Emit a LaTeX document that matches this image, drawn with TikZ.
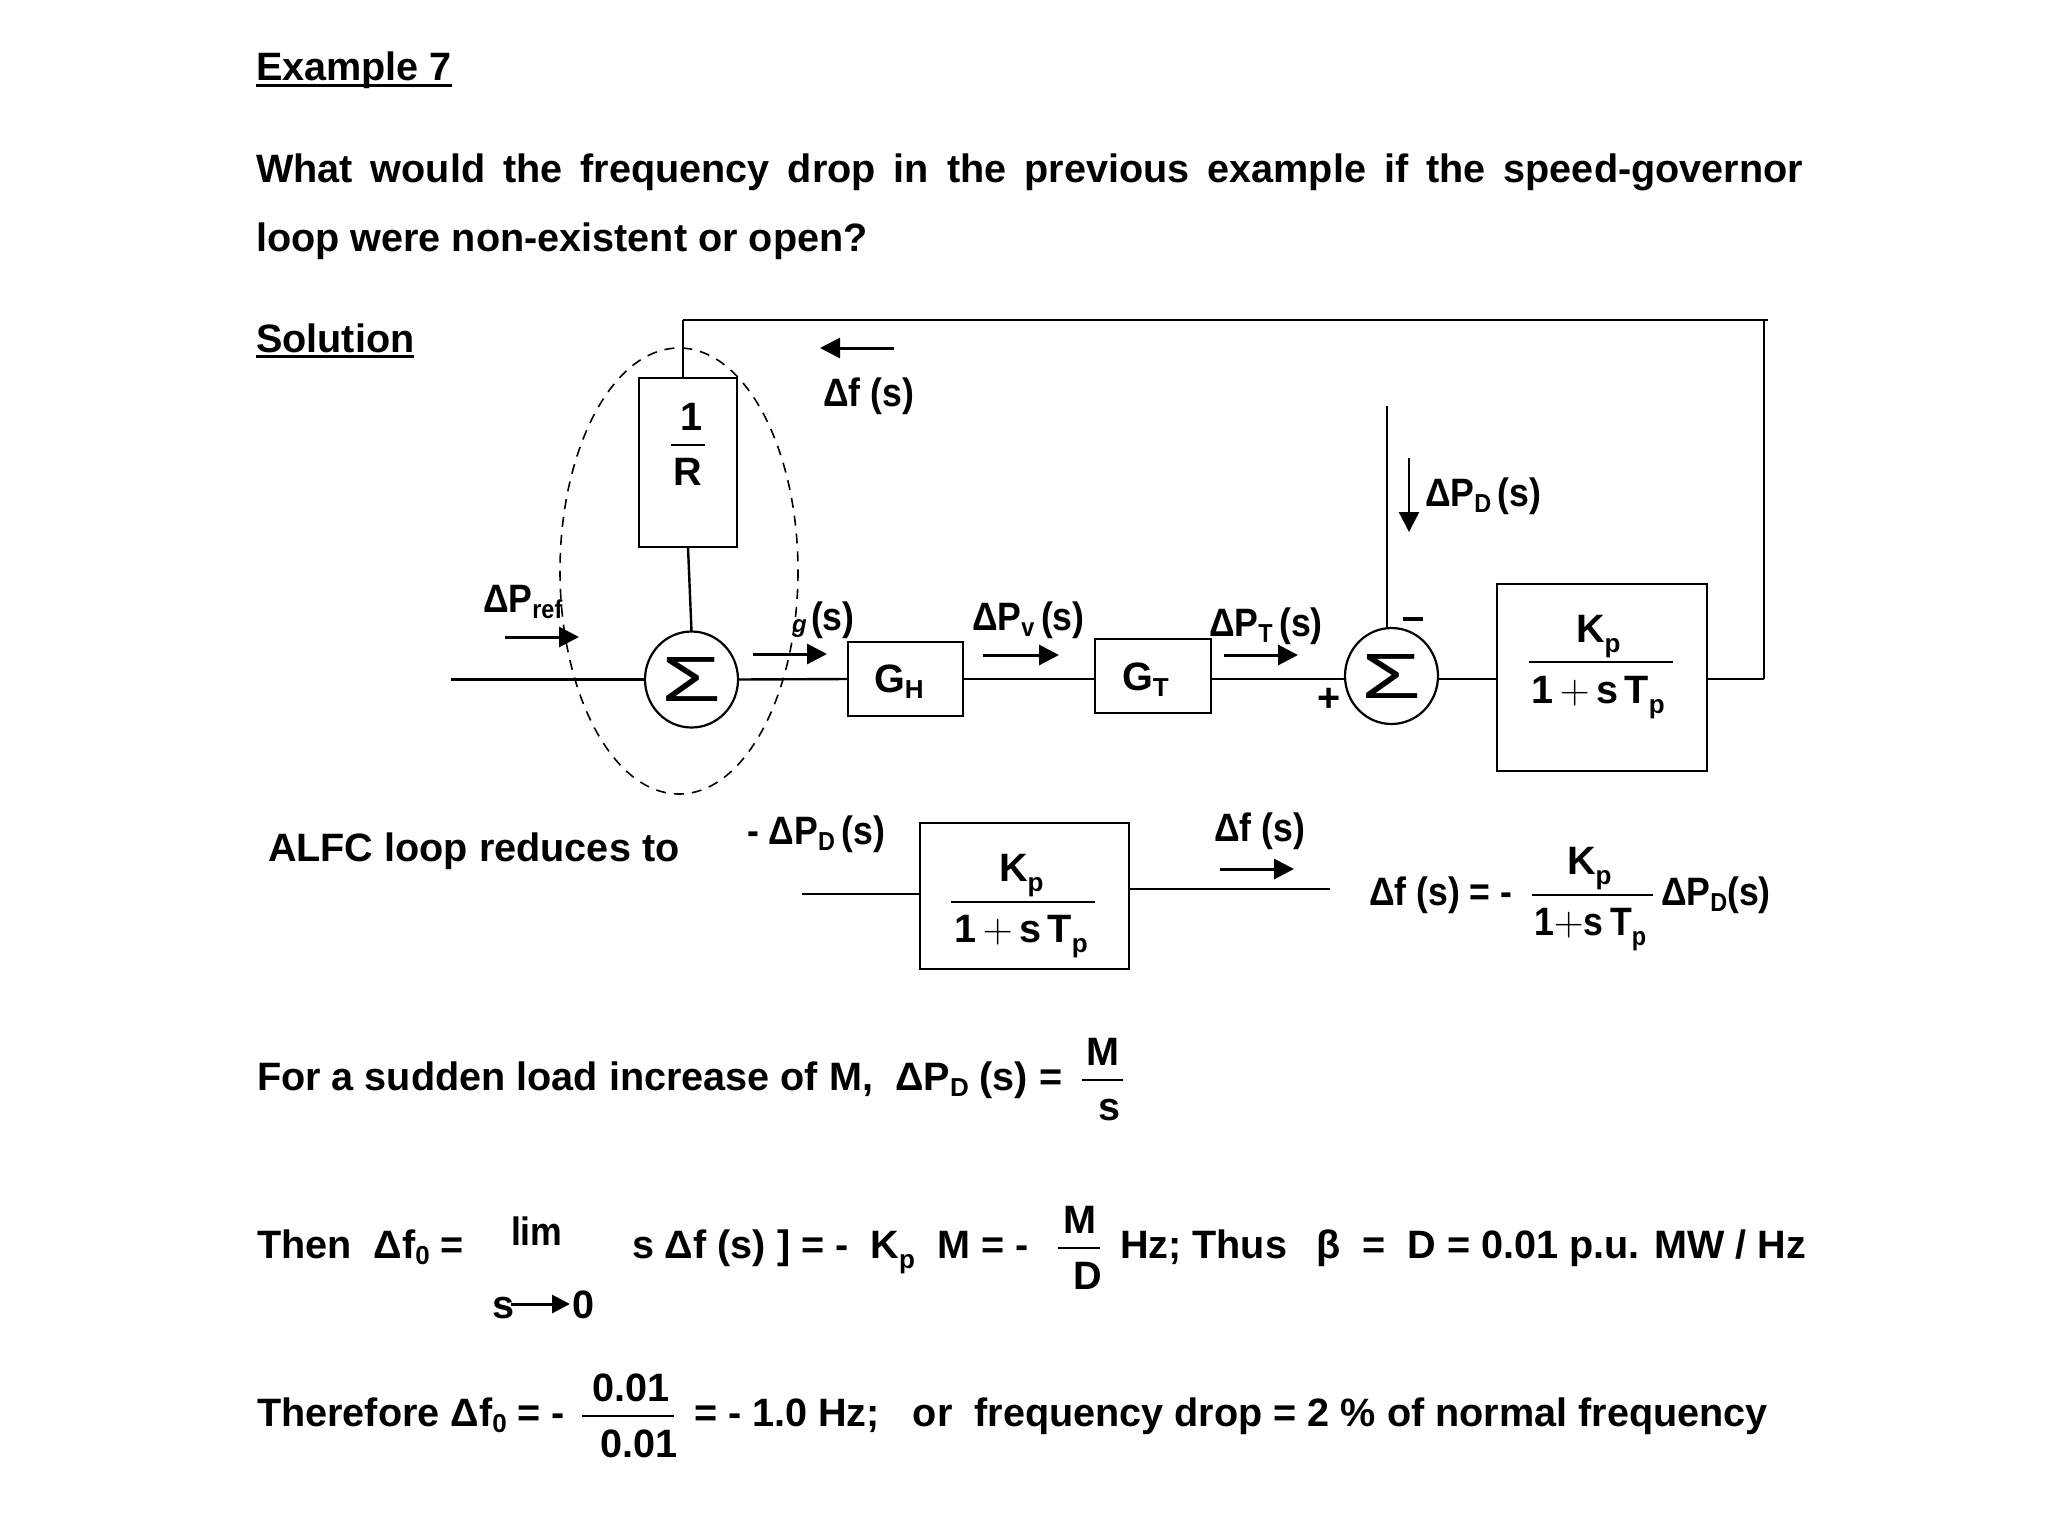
\documentclass[tikz,border=0pt]{standalone}
\usepackage{amsmath,amssymb}
\usepackage{graphicx}
\usepackage{fontspec}
\usepackage{tikz}
\usepackage{xcolor}
\usetikzlibrary{arrows.meta,shapes.geometric}
\setmainfont{Liberation Sans}
\newfontfamily\diagfont[FakeStretch=0.9]{Liberation Sans}
\newcommand{\lsub}[1]{\raisebox{-0.3ex}{\fontsize{13}{13}\selectfont #1}}
\newcommand{\psub}[1]{\raisebox{-0.5ex}{\fontsize{13}{13}\selectfont #1}}
\newcommand{\undertext}[1]{\setbox0\hbox{#1}\rlap{\rule[-3pt]{\wd0}{1.3pt}}\box0}
\newcommand{\bigsigma}{\resizebox{30pt}{22pt}{Σ}}
\tikzset{
  lbl/.style={font=\bfseries\fontsize{19.8}{24}\selectfont,inner sep=0pt,outer sep=0pt,anchor=base west},
  dlbl/.style={font=\diagfont\bfseries\fontsize{19.8}{24}\selectfont,inner sep=0pt,outer sep=0pt,anchor=base west},
  blockbox/.style={draw,line width=1.1pt,inner sep=0pt,outer sep=0pt},
  sumnode/.style={draw,ellipse,line width=1.1pt,inner sep=0pt,outer sep=0pt,minimum width=46.5pt,minimum height=48pt},
  wire/.style={line width=1.2pt},
  sigarrow/.style={line width=1.5pt,-{Triangle[length=10pt,width=10pt]}},
  fracline/.style={line width=0.8pt}
}
\begin{document}
\begin{tikzpicture}[x=0.5pt,y=-0.5pt]
\useasboundingbox (0,0) rectangle (2048,1536);
\node[lbl] (title) at (256,81) {\undertext{Example 7}};
\node[lbl] (questa) at (256,182) {\makebox[773.5pt][s]{What would the frequency drop in the previous example if the speed-governor}};
\node[lbl] (questb) at (256,251) {loop were non-existent or open?};
\node[lbl] (soln) at (256,352) {\undertext{Solution}};
% upper loop
\coordinate (topL) at (683,320);
\coordinate (topR) at (1768,320);
\coordinate (rgt) at (1764,320);
\coordinate (mid) at (0,679);
\coordinate (inA) at (451,679.5);
\coordinate (pdtop) at (1387,406);
\node[blockbox,minimum width=49pt,minimum height=84.5pt] (rbox) at (688,462.5) {};
\node[sumnode] (sumA) at (691.5,679.5) {\bigsigma};
\node[blockbox,minimum width=57.5pt,minimum height=37pt] (gh) at (905.5,679) {};
\node[blockbox,minimum width=58pt,minimum height=37pt] (gt) at (1153,676) {};
\node[sumnode] (sumB) at (1391.5,676) {\bigsigma};
\node[blockbox,minimum width=105pt,minimum height=93.5pt] (kbox) at (1602,677.5) {};
\draw[wire] (topL) -- (topR);
\draw[wire] (rgt) -- (rgt |- mid);
\draw[wire] (topL) -- (topL |- rbox.north);
\draw[wire] (rbox.south) -- (sumA.north);
\draw[wire] (inA) -- (sumA.west);
\draw[wire] (sumA.east) -- (gh.west);
\draw[wire] (gh.east) -- (gt.west |- mid);
\draw[wire] (gt.east |- mid) -- (sumB.west |- mid);
\draw[wire] (sumB.east |- mid) -- (kbox.west |- mid);
\draw[wire] (kbox.east |- mid) -- (rgt |- mid);
\draw[line width=1pt] (pdtop) -- (sumB.north -| pdtop);
\draw[line width=0.8pt,dashed,dash pattern=on 5pt off 4pt] (679,571) ellipse [x radius=119,y radius=223];
% arrows beside the signals
\coordinate (afa) at (894,348);\coordinate (afb) at (820,348);
\coordinate (apa) at (505,637);\coordinate (apb) at (579,637);
\coordinate (aga) at (753,654);\coordinate (agb) at (827,654);
\coordinate (ava) at (983,655);\coordinate (avb) at (1059,655);
\coordinate (ata) at (1224,655);\coordinate (atb) at (1298,655);
\coordinate (ada) at (1409,458);\coordinate (adb) at (1409,532);
\draw[sigarrow] (afa) -- (afb);
\draw[sigarrow] (apa) -- (apb);
\draw[sigarrow] (aga) -- (agb);
\draw[sigarrow] (ava) -- (avb);
\draw[sigarrow] (ata) -- (atb);
\draw[sigarrow,line width=1.2pt] (ada) -- (adb);
% signal names
\node[dlbl] (fsa) at (823,406) {Δf (s)};
\node[dlbl] (pref) at (483,612) {ΔP\lsub{ref}};
\node[lbl,font=\bfseries\itshape\fontsize{12}{12}\selectfont] (pgsub) at (792,632) {g};
\node[dlbl] (pgs) at (811,630) {(s)};
\node[dlbl] (pvs) at (972,630) {ΔP\lsub{v}\,(s)};
\node[dlbl] (pts) at (1209,636) {ΔP\lsub{T}\,(s)};
\node[dlbl] (pds) at (1425,506) {ΔP\lsub{D}\,(s)};
\node[lbl] (minus) at (1403,621) {\rule[0pt]{10pt}{1.8pt}};
\node[lbl] (plus) at (1317,711) {+};
\node[lbl] (onenum) at (680,430) {1};
\draw[fracline] (671,445) -- (705,445);
\node[lbl] (rden) at (673,485) {R};
\node[lbl] (ghtxt) at (874,692) {G\lsub{H}};
\node[lbl] (gttxt) at (1122,690) {G\lsub{T}};
\node[lbl] (kpa) at (1576,642) {K\psub{p}};
\draw[fracline] (1529,662) -- (1673,662);
\node[lbl] (tpa) at (1531,703) {1$\,+\,$s\kern3pt T\psub{p}};
% reduced loop
\coordinate (inB) at (802,894);
\coordinate (outB) at (1330,889);
\node[lbl] (alfc) at (268,861) {ALFC loop reduces to};
\node[dlbl] (mpd) at (747,844) {- ΔP\lsub{D}\,(s)};
\node[blockbox,minimum width=104.5pt,minimum height=73pt] (kboxb) at (1024.5,896) {};
\draw[wire] (inB) -- (inB -| kboxb.west);
\draw[wire] (outB -| kboxb.east) -- (outB);
\coordinate (aba) at (1220,869);\coordinate (abb) at (1294,869);
\draw[sigarrow] (aba) -- (abb);
\node[dlbl] (fsb) at (1214,841) {Δf (s)};
\node[lbl] (kpb) at (999,881) {K\psub{p}};
\draw[fracline] (951,902) -- (1095,902);
\node[lbl] (tpb) at (954,942) {1$\,+\,$s\kern3pt T\psub{p}};
\node[dlbl] (eqa) at (1369,905) {Δf (s) = -};
\node[lbl] (kpc) at (1567,874) {K\psub{p}};
\draw[fracline] (1532,895) -- (1653,895);
\node[dlbl] (tpc) at (1534,935) {1$+$s\,T\psub{p}};
\node[dlbl] (pdc) at (1661,905) {ΔP\lsub{D}(s)};
% working
\node[lbl] (linea) at (257,1090) {For a sudden load increase of M,\ \ ΔP\lsub{D} (s) =};
\node[lbl] (mnum) at (1086,1065) {M};
\draw[fracline] (1082,1080) -- (1123,1080);
\node[lbl] (sden) at (1098,1120) {s};
\node[dlbl] (limt) at (511,1245) {lim};
\node[lbl] (lineb) at (257,1258) {Then\ \ Δf\lsub{0} =};
\node[lbl] (lims) at (492,1318) {s};
\coordinate (lima) at (511,1304);\coordinate (limb) at (570,1304);
\draw[sigarrow,-{Triangle[length=9pt,width=9pt]}] (lima) -- (limb);
\node[lbl] (limz) at (572,1318) {0};
\node[lbl] (linec) at (632,1258) {s Δf (s) ] = -\ \ K\psub{p}\ \ M = -};
\node[lbl] (mnumb) at (1063,1233) {M};
\draw[fracline] (1058,1248) -- (1100,1248);
\node[lbl] (dden) at (1073,1289) {D};
\node[lbl] (lined) at (1120,1258) {Hz; Thus\ \ \kern-2pt\ β\ \ =\ \ D = 0.01 p.u. MW / Hz};
\node[lbl] (linee) at (257,1426) {Therefore Δf\lsub{0} = -};
\node[lbl] (numa) at (592,1401) {0.01};
\draw[fracline] (582,1416) -- (674,1416);
\node[lbl] (numb) at (600,1457) {0.01};
\node[lbl] (linef) at (694,1426) {= - 1.0 Hz;\ \ \ or\ \ frequency drop = 2 \% of normal frequency};
\end{tikzpicture}
\end{document}
